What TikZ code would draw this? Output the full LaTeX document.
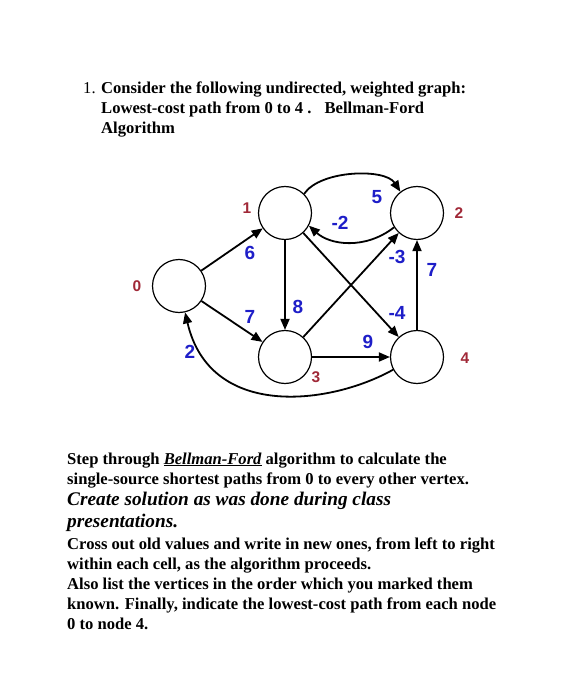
\documentclass[tikz,border=0pt]{standalone}
\usepackage{fontspec}
\setmainfont{Liberation Serif}
\newfontfamily\graphfont{Liberation Sans}
\usetikzlibrary{arrows.meta}

\definecolor{vertexred}{RGB}{160,40,55}
\definecolor{weightblue}{RGB}{30,30,200}

\begin{document}
\begin{tikzpicture}[x=1pt, y=-1pt,
    vertex/.style={draw, circle, minimum size=53pt, inner sep=0pt, line width=1.2pt},
    flow/.style={-{Triangle[length=11pt,width=9pt]}, line width=1.8pt},
    weight/.style={font=\graphfont\bfseries\fontsize{19}{19}\selectfont, text=weightblue, inner sep=0pt},
    vname/.style={font=\graphfont\bfseries\fontsize{15.5}{15.5}\selectfont, text=vertexred, inner sep=0pt},
    textline/.style={anchor=base west, inner sep=0pt, font=\bfseries\fontsize{16.6}{19}\selectfont},
    bigline/.style={anchor=base west, inner sep=0pt, font=\bfseries\itshape\fontsize{19.3}{22}\selectfont}
]
\useasboundingbox (0,0) rectangle (568,700);

% heading
\node[textline, font=\fontsize{16.6}{19}\selectfont] (num) at (83,94) {1.};
\node[textline] (head1) at (101,94) {Consider the following undirected, weighted graph:};
\node[textline] (head2) at (101,114) {Lowest-cost path from 0 to 4 .\hspace{13pt}Bellman-Ford};
\node[textline] (head3) at (101,134) {Algorithm};

% vertices
\node[vertex] (v0) at (179,286) {};
\node[vertex] (v1) at (285,213) {};
\node[vertex] (v2) at (417,213) {};
\node[vertex] (v3) at (285,357) {};
\node[vertex] (v4) at (417,357) {};

\node[vname] (n0) at (137,286) {0};
\node[vname] (n1) at (247,208) {1};
\node[vname] (n2) at (459,213) {2};
\node[vname] (n3) at (316,377) {3};
\node[vname] (n4) at (465,358) {4};

% edges
\draw[flow] (v0) -- (v1);
\draw[flow] (v0) -- (v3);
\draw[flow] (v1) -- (v3);
\draw[flow] (v1) -- (v4);
\draw[flow] (v3) -- (v2);
\draw[flow] (v3) -- (v4);
\draw[flow] (v4) -- (v2);
\draw[flow] (v1.45) .. controls (320,170) and (385,168) .. (v2.128);
\draw[flow] (v2.212) .. controls (365,250) and (330,245) .. (v1.-28);
\draw[flow] (v4.208) .. controls (330,405) and (210,420) .. (v0.-77);

% weights
\node[weight] (w01) at (250,253) {6};
\node[weight] (w03) at (250,317) {7};
\node[weight] (w13) at (298,307) {8};
\node[weight] (w40) at (190,352) {2};
\node[weight] (w34) at (368,342) {9};
\node[weight] (w14) at (397,313) {-4};
\node[weight] (w32) at (397,257) {-3};
\node[weight] (w42) at (432,270) {7};
\node[weight] (w21) at (340,223) {-2};
\node[weight] (w12) at (377,197) {5};

% task
\node[textline] (task1) at (67,464) {Step through \underline{\itshape Bellman-Ford} algorithm to calculate the};
\node[textline] (task2) at (67,484) {single-source shortest paths from 0 to every other vertex.};
\node[bigline] (task3) at (67,505) {Create solution as was done during class};
\node[bigline] (task4) at (67,527) {presentations.};
\node[textline] (task5) at (67,549) {Cross out old values and write in new ones, from left to right};
\node[textline] (task6) at (67,569) {within each cell, as the algorithm proceeds.};
\node[textline] (task7) at (67,589) {Also list the vertices in the order which you marked them};
\node[textline] (task8) at (67,609) {known. Finally, indicate the lowest-cost path from each node};
\node[textline] (task9) at (67,629) {0 to node 4.};
\end{tikzpicture}
\end{document}
